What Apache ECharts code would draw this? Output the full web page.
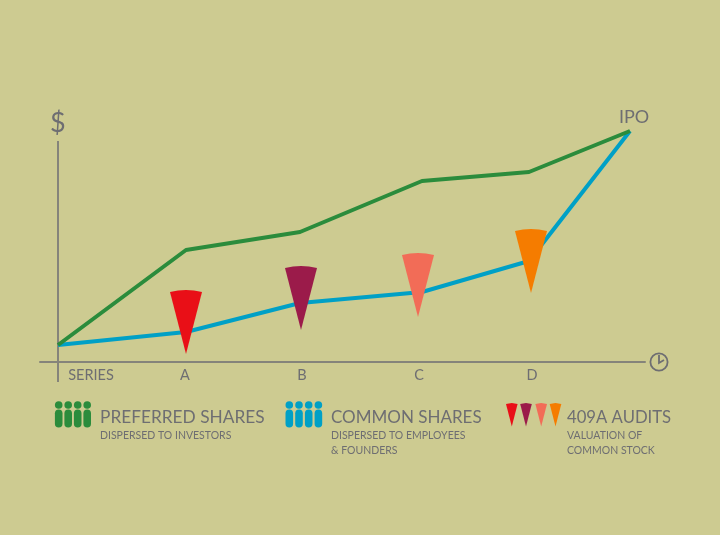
<!DOCTYPE html>
<html>
<head>
<meta charset="utf-8">
<style>html,body{margin:0;padding:0;background:#cdcb91}#main{width:720px;height:535px}</style>
<script src="https://cdn.jsdelivr.net/npm/echarts@6/dist/echarts.min.js"></script>
</head>
<body>
<div id="main"></div>
<script>
const rounds=[0,128,242,364,471,572]
const preferred=[17,112,130,181,190,231]
const common=[17,30,59,70,101,231]
const tickValues=[33,127,244,361,474]
const tickNames=['SERIES','A','B','C','D']
const auditX=[128,243,360,473]
const auditY=[8,32,45,69]
const auditColors=['#e90f17','#9b1b4a','#f26c57','#f57c00']
const yAxisEnds=[-20,221]

const textColor='#6e6e72'
const font='Lato'
const wedge='path://M0 3Q16 -1 32 3L16 64Z'

function pair(xs,ys){return xs.map((x,i)=>[x,ys[i]])}

function people(xs,color){
  const out=[]
  xs.forEach(x=>{
    out.push({type:'circle',shape:{cx:x,cy:405,r:3.8},style:{fill:color}})
    out.push({type:'rect',shape:{x:x-3.8,y:409.5,width:7.6,height:18,r:3.8},style:{fill:color}})
  })
  return out
}
function label(x,y,text,size){
  return {type:'text',x:x,y:y,style:{text:text,fill:textColor,font:size+'px '+font,textVerticalAlign:'middle'}}
}
function miniWedge(x,color){
  return {type:'polygon',x:x,y:403,
    shape:{points:[[0,1.1],[2.9,.4],[5.8,0],[8.7,.4],[11.6,1.1],[5.8,23.5]]},style:{fill:color}}
}

const myChart=echarts.init(document.querySelector('#main'),null,{renderer:'canvas'})
myChart.setOption({
  backgroundColor:'#cdcb91',
  animation:false,
  grid:{left:40,top:131,width:605,height:231},
  xAxis:{
    type:'value',min:-18,max:587,
    splitLine:{show:false},
    axisLine:{lineStyle:{color:'#85847a',width:2}},
    axisTick:{show:false},
    axisLabel:{
      customValues:tickValues,
      margin:6,
      color:textColor,fontFamily:font,fontSize:14.5,
      formatter:v=>tickNames[tickValues.indexOf(v)]
    }
  },
  yAxis:{type:'value',min:0,max:231,show:false},
  series:[
    {type:'line',data:pair([0,0],yAxisEnds),symbol:'none',silent:true,clip:false,lineStyle:{color:'#85847a',width:2}},
    {name:'COMMON SHARES',type:'line',data:pair(rounds,common),symbol:'none',clip:false,lineStyle:{color:'#00a0c6',width:4}},
    {name:'PREFERRED SHARES',type:'line',data:pair(rounds,preferred),symbol:'none',clip:false,lineStyle:{color:'#2b8c3c',width:4}},
    {name:'409A AUDITS',type:'scatter',clip:false,z:5,
      data:pair(auditX,auditY).map((p,i)=>({value:p,itemStyle:{color:auditColors[i],opacity:1}})),
      symbol:wedge,symbolSize:[32,64],symbolOffset:[0,'-50%']}
  ],
  graphic:[
    label(50,123,'$',27),
    label(619,117,'IPO',18),
    {type:'circle',shape:{cx:659,cy:362,r:8.6},style:{fill:'none',stroke:textColor,lineWidth:1.8}},
    {type:'polyline',shape:{points:[[659,355],[659,363],[664,360]]},style:{fill:'none',stroke:textColor,lineWidth:1.8}},
    ...people([58.7,68.2,77.7,87.2],'#2b8c3c'),
    label(100,417.5,'PREFERRED SHARES',17.3),
    label(100,436,'DISPERSED TO INVESTORS',10.5),
    ...people([289.3,299,308.7,318.4],'#00a0c6'),
    label(331,417.5,'COMMON SHARES',17),
    label(331,436,'DISPERSED TO EMPLOYEES',10.5),
    label(331,451,'& FOUNDERS',10.5),
    ...[506,520.2,535.4,549.7].map((x,i)=>miniWedge(x,auditColors[i])),
    label(567,417.5,'409A AUDITS',16.7),
    label(567,436,'VALUATION OF',10.5),
    label(567,451,'COMMON STOCK',10.5)
  ]
})
</script>
</body>
</html>
